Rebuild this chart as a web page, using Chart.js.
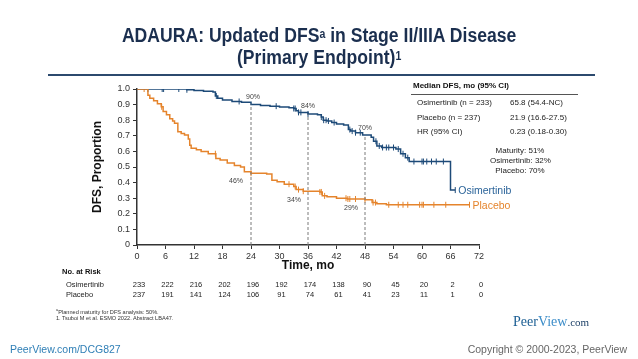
<!DOCTYPE html>
<html><head><meta charset="utf-8">
<script src="https://cdn.jsdelivr.net/npm/chart.js@4/dist/chart.umd.min.js"></script>
<style>
html,body{margin:0;padding:0;background:#fff;}
body{width:638px;height:359px;position:relative;overflow:hidden;font-family:"Liberation Sans",Arial,sans-serif;}
#c{position:absolute;left:0;top:0;}
.t{position:absolute;white-space:nowrap;}
#title{left:0;width:638px;text-align:center;top:24px;font-family:"Liberation Sans",Arial,sans-serif;font-weight:bold;font-size:20px;line-height:22px;color:#1b2f4f;transform:scaleX(0.88);transform-origin:320px 0;}
#title sup{font-size:12px;vertical-align:top;position:relative;top:-1px;}
#rule{position:absolute;left:48px;top:74px;width:547px;height:2px;background:#2c4a6e;}
</style></head><body>
<canvas id="c" width="638" height="359"></canvas>
<div id="title" class="t">ADAURA: Updated DFS<sup>a</sup> in Stage II/IIIA Disease<br>(Primary Endpoint)<sup>1</sup></div>
<div id="rule"></div>
<div class="t" style="left:97px;top:167px;transform:translate(-50%,-50%) rotate(-90deg);font-weight:bold;font-size:12px;color:#111;">DFS, Proportion</div>
<div class="t" style="left:308px;top:258px;transform:translateX(-50%);font-weight:bold;font-size:12px;color:#111;">Time, mo</div>
<div class="t" style="left:413px;top:81px;font-weight:bold;font-size:8px;color:#111;">Median DFS, mo (95% CI)</div>
<div style="position:absolute;left:411px;top:94px;width:167px;height:1px;background:#555;"></div>
<div class="t" style="left:417px;top:98px;font-size:8px;color:#222;">Osimertinib (n = 233)</div>
<div class="t" style="left:510px;top:98px;font-size:8px;color:#222;">65.8 (54.4-NC)</div>
<div class="t" style="left:417px;top:113px;font-size:8px;color:#222;">Placebo (n = 237)</div>
<div class="t" style="left:510px;top:113px;font-size:8px;color:#222;">21.9 (16.6-27.5)</div>
<div class="t" style="left:417px;top:127px;font-size:8px;color:#222;">HR (95% CI)</div>
<div class="t" style="left:510px;top:127px;font-size:8px;color:#222;">0.23 (0.18-0.30)</div>
<div class="t" style="left:490px;top:146px;width:60px;text-align:center;font-size:8px;line-height:10px;color:#222;">Maturity: 51%<br>Osimertinib: 32%<br>Placebo: 70%</div>
<div class="t" style="left:62px;top:267px;font-weight:bold;font-size:7.5px;color:#111;">No. at Risk</div>
<div class="t" style="left:66px;top:280px;font-size:7.5px;color:#222;">Osimertinib</div>
<div class="t" style="left:66px;top:290px;font-size:7.5px;color:#222;">Placebo</div>
<div class="t" style="left:56px;top:307px;font-size:5.6px;color:#333;"><sup style="font-size:4px">a</sup>Planned maturity for DFS analysis: 50%.</div>
<div class="t" style="left:56px;top:315px;font-size:5.6px;color:#333;">1. Tsuboi M et al. ESMO 2022. Abstract LBA47.</div>
<div class="t" style="left:513px;top:314px;font-family:'Liberation Serif',serif;font-size:14px;"><span style="color:#1b5e93">Peer</span><span style="color:#3c8dc9">View</span><span style="color:#1b3f66;font-size:11px">.com</span></div>
<div class="t" style="left:10px;top:343px;font-size:10.5px;color:#2f7fb6;">PeerView.com/DCG827</div>
<div class="t" style="right:11px;top:343px;font-size:10.5px;color:#666;">Copyright © 2000-2023, PeerView</div>
<script>
// ---- data ----
const xTicks = [0,6,12,18,24,30,36,42,48,54,60,66,72];
const yTickLabels = ['0','0.1','0.2','0.3','0.4','0.5','0.6','0.7','0.8','0.9','1.0'];
const osiT = [0,10.5,12,14,16,16.5,17,18,20,22,24,26,28,30,32,33,33.5,34,36,38,38.8,39.2,40,41,42,43.5,44.5,45,46,47.5,49.3,49.8,50.5,51.5,54.5,55.5,56.5,57.3,66,67];
const osiV = [1.0,0.995,0.99,0.985,0.98,0.955,0.94,0.93,0.92,0.915,0.90,0.895,0.89,0.885,0.88,0.875,0.86,0.85,0.84,0.835,0.82,0.80,0.795,0.785,0.775,0.77,0.74,0.73,0.72,0.705,0.69,0.665,0.635,0.625,0.615,0.585,0.56,0.535,0.352,0.352];
const plaT = [0,2.3,2.7,3.5,4.3,5.1,5.5,6.2,6.9,7.5,7.9,8.6,9.3,10,10.8,11.1,11.4,12.5,13.5,15,16.6,17.5,19,20.5,21.8,22.6,24,27.3,28.4,29.5,31,33,33.5,35,38.5,39,40,42,44.3,48,49.5,50.5,52.5,70];
const plaV = [1.0,0.96,0.94,0.925,0.905,0.886,0.855,0.835,0.81,0.795,0.78,0.726,0.715,0.705,0.68,0.64,0.62,0.61,0.60,0.585,0.555,0.545,0.525,0.51,0.50,0.47,0.46,0.455,0.415,0.405,0.39,0.375,0.355,0.345,0.34,0.315,0.31,0.30,0.295,0.29,0.272,0.265,0.258,0.258];
const osiCensor = [2.3,5.3,5.6,8.8,10.5,16.7,21.5,29.3,33,33.3,34,34.5,36,38.8,39.3,39.8,40.3,41.5,44.8,45.3,46,47,50.3,51,51.7,52.5,53,54,55,56,57,58.3,60,60.3,61,62,63,64.5,67];
const plaCensor = [1.5,5.2,16.5,24,32,33.3,34,35,38.5,38.8,39.5,44,44.4,44.8,46,48,49.7,50.2,53,55,56,57,59.5,60,60.3,62.5,65,70];
const markT = [24,36,48];
const osiMark = [0.90,0.84,0.70];
const plaMark = [0.46,0.34,0.29];
const osiMarkLabels = ['90%','84%','70%'];
const plaMarkLabels = ['46%','34%','29%'];
const riskOsi = [233,222,216,202,196,192,174,138,90,45,20,2,0];
const riskPla = [237,191,141,124,106,91,74,61,41,23,11,1,0];
const seriesNames = ['Osimertinib','Placebo'];

const BLUE = '#1d4a78', ORANGE = '#e5842c';
function stepVal(T,V,t){let v=V[0];for(let i=0;i<T.length;i++){if(T[i]<=t)v=V[i];}return v;}
const pts = (T,V)=>T.map((t,i)=>({x:t,y:V[i]}));
const cens = (C,T,V)=>C.map(t=>({x:t,y:stepVal(T,V,t)}));

const datasets = [];
markT.forEach((t,i)=>{
  datasets.push({type:'line',data:[{x:t,y:0},{x:t,y:osiMark[i]}],borderColor:'#7a7a7a',borderWidth:1,borderDash:[3,2],pointRadius:0,fill:false});
});
datasets.push({type:'line',label:seriesNames[1],data:pts(plaT,plaV),stepped:'before',borderColor:ORANGE,borderWidth:1.5,pointRadius:0,fill:false});
datasets.push({type:'line',label:seriesNames[0],data:pts(osiT,osiV),stepped:'before',borderColor:BLUE,borderWidth:1.5,pointRadius:0,fill:false});
datasets.push({type:'scatter',data:cens(plaCensor,plaT,plaV),pointStyle:'line',rotation:90,pointRadius:3,borderColor:ORANGE,borderWidth:1,backgroundColor:ORANGE});
datasets.push({type:'scatter',data:cens(osiCensor,osiT,osiV),pointStyle:'line',rotation:90,pointRadius:3,borderColor:BLUE,borderWidth:1,backgroundColor:BLUE});

const overlay = {
  id:'overlay',
  afterDatasetsDraw(chart){
    const ctx=chart.ctx, xs=chart.scales.x, ys=chart.scales.y;
    ctx.save();
    ctx.font='7px "Liberation Sans", Arial, sans-serif';
    ctx.fillStyle='#444';
    ctx.textAlign='center';ctx.textBaseline='middle';
    const dxO=[2,0,0], dxP=[-15,-14,-14];
    markT.forEach((t,i)=>{
      ctx.fillText(osiMarkLabels[i], xs.getPixelForValue(t)+dxO[i], ys.getPixelForValue(osiMark[i])-8);
      ctx.fillText(plaMarkLabels[i], xs.getPixelForValue(t)+dxP[i], ys.getPixelForValue(plaMark[i])+8);
    });
    ctx.font='10.5px "Liberation Sans", Arial, sans-serif';
    ctx.textAlign='left';
    ctx.fillStyle='#2a6399';
    ctx.fillText(seriesNames[0], xs.getPixelForValue(osiT[osiT.length-1])+3, ys.getPixelForValue(osiV[osiV.length-1])+1);
    ctx.fillStyle=ORANGE;
    ctx.fillText(seriesNames[1], xs.getPixelForValue(plaT[plaT.length-1])+3, ys.getPixelForValue(plaV[plaV.length-1])+1);
    ctx.font='7.5px "Liberation Sans", Arial, sans-serif';
    ctx.fillStyle='#222';ctx.textAlign='center';
    xTicks.forEach((t,i)=>{
      const px=xs.getPixelForValue(t)+2;
      ctx.fillText(String(riskOsi[i]),px,285);
      ctx.fillText(String(riskPla[i]),px,295);
    });
    ctx.restore();
  }
};

new Chart(document.getElementById('c'),{
  data:{datasets},
  options:{
    responsive:false,animation:false,
    layout:{padding:{left:97,top:89,right:159,bottom:94}},
    plugins:{legend:{display:false},tooltip:{enabled:false}},
    scales:{
      x:{type:'linear',min:0,max:72,
        afterBuildTicks(s){s.ticks=xTicks.map(v=>({value:v}));},
        afterFit(s){s.height=20;},
        grid:{display:true,drawOnChartArea:false,drawTicks:true,tickLength:4,color:'#333',lineWidth:1},
        border:{display:true,color:'#333',width:1.5},
        ticks:{font:{size:9,family:'"Liberation Sans", Arial, sans-serif'},color:'#333',padding:2,maxRotation:0}},
      y:{type:'linear',min:0,max:1,
        afterBuildTicks(s){s.ticks=yTickLabels.map((l,i)=>({value:i/10}));},
        afterFit(s){s.width=40;},
        grid:{display:true,drawOnChartArea:false,drawTicks:true,tickLength:4,color:'#333',lineWidth:1},
        border:{display:true,color:'#333',width:1.5},
        ticks:{font:{size:9,family:'"Liberation Sans", Arial, sans-serif'},color:'#333',padding:3,
          callback:(v,i)=>yTickLabels[i]}}
    }
  },
  plugins:[overlay]
});
</script>
</body></html>
